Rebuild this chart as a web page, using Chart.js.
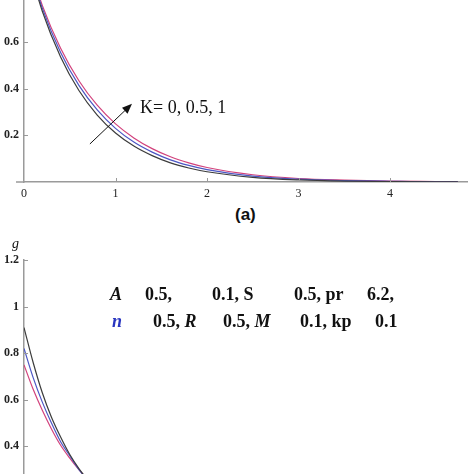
<!DOCTYPE html>
<html>
<head>
<meta charset="utf-8">
<script src="https://cdn.jsdelivr.net/npm/chart.js@4.4.1/dist/chart.umd.min.js"></script>
<style>
html, body { margin: 0; padding: 0; background: #fff; width: 474px; height: 474px; overflow: hidden; position: relative; }
canvas { position: absolute; left: 0; }
.t { position: absolute; font-family: "Liberation Serif", "Times New Roman", serif; white-space: pre; color: #111; font-size: 18px; line-height: 18px; }
.b { font-weight: bold; }
</style>
</head>
<body>
<canvas id="topChart" width="474" height="200" style="top:0"></canvas>
<canvas id="botChart" width="474" height="253" style="top:240px"></canvas>

<div class="t" style="left:140px;top:98px">K= 0, 0.5, 1</div>
<div class="t b" style="left:235px;top:206px;font-size:17px;font-family:'Liberation Sans',Arial,sans-serif">(a)</div>
<div class="t" style="left:12px;top:235px;font-size:14px;font-style:italic">g</div>

<div class="t b" style="left:110px;top:285px"><i>A</i></div>
<div class="t b" style="left:145px;top:285px">0.5,</div>
<div class="t b" style="left:212px;top:285px">0.1, S</div>
<div class="t b" style="left:294px;top:285px">0.5, pr</div>
<div class="t b" style="left:367px;top:285px">6.2,</div>

<div class="t b" style="left:112px;top:312px;color:#2a36c0"><i>n</i></div>
<div class="t b" style="left:153px;top:312px">0.5, <i>R</i></div>
<div class="t b" style="left:223px;top:312px">0.5, <i>M</i></div>
<div class="t b" style="left:300px;top:312px">0.1, kp</div>
<div class="t b" style="left:375px;top:312px">0.1</div>

<script>
// panel (a): K = 0, 0.5, 1
const xTop = [0, 0.2, 0.4, 0.6, 0.8, 1.0, 1.2, 1.4, 1.6, 1.8, 2.0, 2.5, 3.0, 3.5, 4.0, 4.5, 4.74];
const kZero = [1.0, 0.732, 0.536, 0.392, 0.287, 0.210, 0.154, 0.113, 0.082, 0.060, 0.044, 0.020, 0.009, 0.004, 0.002, 0.001, 0.001];
const kHalf = [1.0, 0.745, 0.555, 0.414, 0.309, 0.230, 0.171, 0.128, 0.095, 0.071, 0.053, 0.025, 0.012, 0.006, 0.003, 0.001, 0.001];
const kOne  = [1.0, 0.757, 0.573, 0.434, 0.329, 0.249, 0.189, 0.143, 0.108, 0.082, 0.062, 0.031, 0.015, 0.008, 0.004, 0.002, 0.001];

// lower panel: g
const xBot = [0, 0.1, 0.2, 0.3, 0.4, 0.5, 0.6, 0.7, 0.8];
const gBlack   = [0.91, 0.76, 0.63, 0.525, 0.44, 0.365, 0.305, 0.255, 0.21];
const gBlue    = [0.82, 0.695, 0.59, 0.50, 0.42, 0.36, 0.30, 0.255, 0.215];
const gMagenta = [0.75, 0.645, 0.555, 0.475, 0.405, 0.35, 0.30, 0.255, 0.215];

const xTicks = [0, 1, 2, 3, 4];
const topYTicks = [0.2, 0.4, 0.6];
const botYTicks = [0.4, 0.6, 0.8, 1, 1.2];

const colBlack = '#3c3c3c', colBlue = '#4b56c4', colMagenta = '#d2427c';
const axisGray = '#9a9a9a';
const tickFont = { family: "'Liberation Serif', 'Times New Roman', serif", size: 12 };

function pts(xs, ys) { return xs.map((x, i) => ({ x: x, y: ys[i] })); }
function line(data, color) {
  return { data: data, borderColor: color, borderWidth: 1.2, pointRadius: 0, cubicInterpolationMode: 'monotone', fill: false };
}
function fmt(v) { return String(Math.round(v * 10) / 10); }
function fitY(s) { s.width = 24; s.paddingTop = 0; s.paddingBottom = 0; }

// small inward tick marks, axis stub left of the origin, and the K arrow
const innerTicks = {
  id: 'innerTicks',
  afterDraw(chart, args, opts) {
    const ctx = chart.ctx, xs = chart.scales.x, ys = chart.scales.y;
    const x0 = chart.chartArea.left, y0 = chart.chartArea.bottom;
    ctx.save();
    ctx.strokeStyle = axisGray;
    ctx.lineWidth = 1;
    opts.yTicks.forEach(v => {
      const py = Math.round(ys.getPixelForValue(v)) + 0.5;
      ctx.beginPath(); ctx.moveTo(x0, py); ctx.lineTo(x0 + 4, py); ctx.stroke();
    });
    (opts.xTicks || []).forEach(v => {
      const px = Math.round(xs.getPixelForValue(v)) + 0.5;
      ctx.beginPath(); ctx.moveTo(px, y0); ctx.lineTo(px, y0 - 4); ctx.stroke();
    });
    if (opts.stub) {
      ctx.lineWidth = 1.5;
      ctx.beginPath(); ctx.moveTo(x0 - opts.stub, y0); ctx.lineTo(x0, y0); ctx.stroke();
    }
    if (opts.arrow) {
      const a = opts.arrow;
      const x1 = xs.getPixelForValue(a[0]), y1 = ys.getPixelForValue(a[1]);
      const x2 = xs.getPixelForValue(a[2]), y2 = ys.getPixelForValue(a[3]);
      const ang = Math.atan2(y2 - y1, x2 - x1);
      ctx.strokeStyle = '#111';
      ctx.fillStyle = '#111';
      ctx.lineWidth = 1;
      ctx.beginPath(); ctx.moveTo(x1, y1); ctx.lineTo(x2 - 6 * Math.cos(ang), y2 - 6 * Math.sin(ang)); ctx.stroke();
      ctx.beginPath();
      ctx.moveTo(x2, y2);
      ctx.lineTo(x2 - 10 * Math.cos(ang) + 4 * Math.sin(ang), y2 - 10 * Math.sin(ang) - 4 * Math.cos(ang));
      ctx.lineTo(x2 - 10 * Math.cos(ang) - 4 * Math.sin(ang), y2 - 10 * Math.sin(ang) + 4 * Math.cos(ang));
      ctx.closePath(); ctx.fill();
    }
    ctx.restore();
  }
};

new Chart(document.getElementById('topChart'), {
  type: 'line',
  data: { datasets: [line(pts(xTop, kZero), colBlack), line(pts(xTop, kHalf), colBlue), line(pts(xTop, kOne), colMagenta)] },
  options: {
    responsive: false, animation: false, devicePixelRatio: 1,
    layout: { padding: { left: 0, right: 7, top: 0, bottom: 0 } },
    plugins: {
      legend: { display: false }, tooltip: { enabled: false },
      innerTicks: { yTicks: topYTicks, xTicks: [1, 2, 3, 4], stub: 8, arrow: [0.72, 0.163, 1.18, 0.335] }
    },
    scales: {
      x: {
        type: 'linear', min: 0, max: 4.84,
        afterBuildTicks: s => { s.ticks = xTicks.map(v => ({ value: v })); },
        afterFit: s => { s.height = 18; s.paddingLeft = 0; s.paddingRight = 0; },
        border: { display: true, color: axisGray, width: 1.5 },
        grid: { display: false, drawTicks: false },
        ticks: { padding: 5, color: '#222', font: tickFont, maxRotation: 0, callback: fmt }
      },
      y: {
        min: 0, max: 0.78,
        afterBuildTicks: s => { s.ticks = topYTicks.map(v => ({ value: v })); },
        afterFit: fitY,
        border: { display: true, color: axisGray, width: 1.5 },
        grid: { display: false, drawTicks: false },
        ticks: { padding: 5, color: '#222', font: Object.assign({ weight: 'bold' }, tickFont), callback: fmt }
      }
    }
  },
  plugins: [innerTicks]
});

new Chart(document.getElementById('botChart'), {
  type: 'line',
  data: { datasets: [line(pts(xBot, gBlack), colBlack), line(pts(xBot, gBlue), colBlue), line(pts(xBot, gMagenta), colMagenta)] },
  options: {
    responsive: false, animation: false, devicePixelRatio: 1,
    layout: { padding: { left: 0, right: 7, top: 20, bottom: 0 } },
    plugins: {
      legend: { display: false }, tooltip: { enabled: false },
      innerTicks: { yTicks: botYTicks }
    },
    scales: {
      x: { type: 'linear', min: 0, max: 4.84, display: false },
      y: {
        min: 0.2, max: 1.2,
        afterBuildTicks: s => { s.ticks = botYTicks.map(v => ({ value: v })); },
        afterFit: fitY,
        border: { display: true, color: axisGray, width: 1.5 },
        grid: { display: false, drawTicks: false },
        ticks: { padding: 5, color: '#222', font: Object.assign({ weight: 'bold' }, tickFont), callback: fmt }
      }
    }
  },
  plugins: [innerTicks]
});
</script>
</body>
</html>
